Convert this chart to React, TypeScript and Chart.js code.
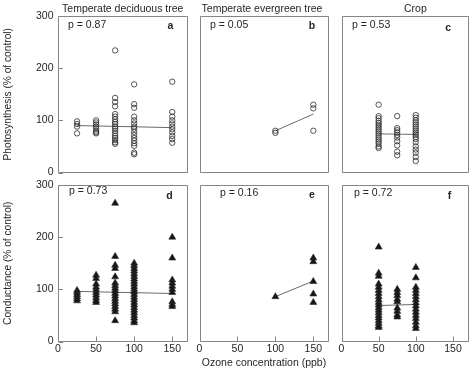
import React, { useEffect, useRef } from "react";
import { Chart, registerables } from "chart.js";

Chart.register(...registerables);

const CANVAS_W = 474;
const CANVAS_H = 370;
const FONT = "'Liberation Sans', Arial, Helvetica, sans-serif";
const TEXT = "#262626";
const FRAME = "#858585";

// ---------- text ----------
const columnTitles = ["Temperate deciduous tree", "Temperate evergreen tree", "Crop"];
const yTitles = ["Photosynthesis (% of control)", "Conductance (% of control)"];
const xTitle = "Ozone concentration (ppb)";
const pLabels = ["p = 0.87", "p = 0.05", "p = 0.53", "p = 0.73", "p = 0.16", "p = 0.72"];
const panelLetters = ["a", "b", "c", "d", "e", "f"];
const yTickValues = [0, 100, 200, 300];
const xTickValues = [0, 50, 100, 150];

// ---------- data: photosynthesis ----------
const decidPhotoX = [25, 50, 75, 100, 150];
const decidPhotoY = [
  [98, 93, 88, 75],
  [100, 96, 92, 88, 84, 80, 77, 75],
  [234, 143, 135, 127, 112, 107, 102, 97, 93, 88, 84, 80, 75, 70, 66, 62, 58, 55],
  [169, 131, 124, 107, 100, 94, 88, 84, 78, 72, 66, 61, 56, 51, 38, 35],
  [174, 116, 107, 100, 94, 88, 83, 77, 70, 64, 57],
];
const decidPhotoFitX = [25, 150];
const decidPhotoFitY = [90, 86];

const everPhotoX = [100, 150];
const everPhotoY = [
  [80, 76],
  [130, 123, 80],
];
const everPhotoFitX = [100, 150];
const everPhotoFitY = [80, 112];

const cropPhotoX = [50, 75, 100];
const cropPhotoY = [
  [130, 108, 104, 99, 95, 91, 87, 83, 79, 75, 71, 67, 63, 59, 55, 50, 47],
  [108, 85, 81, 77, 72, 67, 60, 52, 40, 33],
  [110, 105, 100, 96, 92, 88, 84, 80, 76, 72, 68, 64, 58, 50, 44, 38, 30, 22],
];
const cropPhotoFitX = [50, 100];
const cropPhotoFitY = [74, 73];

// ---------- data: conductance ----------
const decidCondX = [25, 50, 75, 100, 150];
const decidCondY = [
  [98, 94, 90, 86, 82, 78],
  [127, 121, 110, 104, 99, 94, 89, 84, 79, 75],
  [265, 163, 146, 140, 124, 112, 107, 102, 97, 92, 87, 82, 77, 72, 67, 62, 57, 40],
  [150, 145, 140, 135, 130, 125, 120, 115, 110, 105, 100, 95, 90, 85, 80, 75, 70, 65, 60, 55, 50, 45, 40, 36],
  [200, 160, 118, 112, 106, 100, 94, 76, 71, 67],
];
const decidCondFitX = [25, 150];
const decidCondFitY = [96, 92];

const everCondX = [100, 150];
const everCondY = [
  [86],
  [160, 153, 115, 91, 75],
];
const everCondFitX = [100, 150];
const everCondFitY = [86, 116];

const cropCondX = [50, 75, 100];
const cropCondY = [
  [181, 131, 125, 110, 104, 98, 92, 86, 80, 75, 70, 65, 60, 55, 50, 45, 40, 35, 30, 27],
  [100, 94, 88, 81, 76, 64, 58, 51, 47],
  [142, 122, 104, 98, 92, 86, 80, 74, 68, 62, 56, 50, 44, 37, 30, 25],
];
const cropCondFitX = [50, 100];
const cropCondFitY = [69, 71];

// ---------- panel layout (styles only) ----------
type PanelCfg = {
  idx: number;
  xs: number[];
  ys: number[][];
  fitX: number[];
  fitY: number[];
  marker: "circle" | "triangle";
  area: [number, number, number, number];
  xMax: number;
  title?: string;
  titleDx: number;
  yTitle?: string;
  xTitle?: string;
  showYLabels: boolean;
  showXLabels: boolean;
  yMarks: boolean;
  xMarks: boolean;
  pDx: number;
  pDy: number;
  letterDx: number;
  letterDy: number;
};

const TOP: [number, number] = [16, 172.5];
const BOT: [number, number] = [185, 341.5];
const COLS: [number, number][] = [
  [58, 187.5],
  [199.5, 328.5],
  [341.5, 473],
];

const panels: PanelCfg[] = [
  {
    idx: 0, xs: decidPhotoX, ys: decidPhotoY, fitX: decidPhotoFitX, fitY: decidPhotoFitY, marker: "circle",
    area: [COLS[0][0], TOP[0], COLS[0][1], TOP[1]], xMax: 170,
    title: columnTitles[0], titleDx: 0, yTitle: yTitles[0], showYLabels: true, showXLabels: false,
    yMarks: true, xMarks: false, pDx: 10, pDy: 11.5, letterDx: 17, letterDy: 13,
  },
  {
    idx: 1, xs: everPhotoX, ys: everPhotoY, fitX: everPhotoFitX, fitY: everPhotoFitY, marker: "circle",
    area: [COLS[1][0], TOP[0], COLS[1][1], TOP[1]], xMax: 170,
    title: columnTitles[1], titleDx: -2, showYLabels: false, showXLabels: false,
    yMarks: false, xMarks: false, pDx: 10.5, pDy: 11.5, letterDx: 16.5, letterDy: 13,
  },
  {
    idx: 2, xs: cropPhotoX, ys: cropPhotoY, fitX: cropPhotoFitX, fitY: cropPhotoFitY, marker: "circle",
    area: [COLS[2][0], TOP[0], COLS[2][1], TOP[1]], xMax: 172,
    title: columnTitles[2], titleDx: 10, showYLabels: false, showXLabels: false,
    yMarks: false, xMarks: false, pDx: 10.5, pDy: 12, letterDx: 21, letterDy: 14.5,
  },
  {
    idx: 3, xs: decidCondX, ys: decidCondY, fitX: decidCondFitX, fitY: decidCondFitY, marker: "triangle",
    area: [COLS[0][0], BOT[0], COLS[0][1], BOT[1]], xMax: 170,
    titleDx: 0, yTitle: yTitles[1], showYLabels: true, showXLabels: true,
    yMarks: true, xMarks: true, pDx: 11, pDy: 8.5, letterDx: 18, letterDy: 14,
  },
  {
    idx: 4, xs: everCondX, ys: everCondY, fitX: everCondFitX, fitY: everCondFitY, marker: "triangle",
    area: [COLS[1][0], BOT[0], COLS[1][1], BOT[1]], xMax: 170,
    titleDx: 0, xTitle: xTitle, showYLabels: false, showXLabels: true,
    yMarks: false, xMarks: true, pDx: 20.5, pDy: 11.3, letterDx: 16.5, letterDy: 13,
  },
  {
    idx: 5, xs: cropCondX, ys: cropCondY, fitX: cropCondFitX, fitY: cropCondFitY, marker: "triangle",
    area: [COLS[2][0], BOT[0], COLS[2][1], BOT[1]], xMax: 172,
    titleDx: 0, showYLabels: false, showXLabels: true,
    yMarks: false, xMarks: true, pDx: 12.5, pDy: 10.8, letterDx: 20, letterDy: 14,
  },
];

function toPoints(xs: number[], groups: number[][]) {
  return xs.flatMap((x, i) => groups[i].map((y) => ({ x, y })));
}

function makeDecor(p: PanelCfg) {
  return {
    id: "decor" + p.idx,
    beforeDatasetsDraw(chart: any) {
      const { ctx, chartArea: a, scales } = chart;
      const L = Math.round(a.left) + 0.5;
      const T = Math.round(a.top) + 0.5;
      const R = Math.round(a.right) - 0.5;
      const B = Math.round(a.bottom) - 0.5;
      ctx.save();
      ctx.strokeStyle = FRAME;
      ctx.lineWidth = 1;
      ctx.beginPath();
      ctx.moveTo(L, T);
      ctx.lineTo(R, T);
      ctx.lineTo(R, B);
      ctx.lineTo(L, B);
      ctx.closePath();
      if (p.yMarks) {
        for (const v of yTickValues) {
          const py = Math.round(scales.y.getPixelForValue(v)) + 0.5;
          ctx.moveTo(L, py);
          ctx.lineTo(L + 4.5, py);
        }
      }
      if (p.xMarks) {
        for (const v of xTickValues) {
          const px = Math.round(scales.x.getPixelForValue(v)) + 0.5;
          ctx.moveTo(px, B);
          ctx.lineTo(px, B - 5);
        }
      }
      ctx.stroke();
      ctx.restore();
    },
    afterDraw(chart: any) {
      const { ctx, chartArea: a } = chart;
      ctx.save();
      ctx.fillStyle = TEXT;
      ctx.textBaseline = "alphabetic";
      if (p.title) {
        ctx.font = `10.5px ${FONT}`;
        ctx.textAlign = "center";
        ctx.fillText(p.title, (a.left + a.right) / 2 + p.titleDx, 11.5);
      }
      ctx.font = `10.5px ${FONT}`;
      ctx.textAlign = "left";
      ctx.fillText(pLabels[p.idx], a.left + p.pDx, a.top + p.pDy);
      ctx.font = `bold 10.5px ${FONT}`;
      ctx.textAlign = "center";
      ctx.fillText(panelLetters[p.idx], a.right - p.letterDx, a.top + p.letterDy);
      ctx.restore();
    },
  };
}

function buildConfig(p: PanelCfg): any {
  const [L, T, R, B] = p.area;
  const yW = p.showYLabels ? L : 0;
  const xH = p.showXLabels ? CANVAS_H - B : 0;
  const circle = p.marker === "circle";
  return {
    type: "scatter",
    data: {
      datasets: [
        {
          data: toPoints(p.xs, p.ys),
          pointStyle: p.marker,
          pointRadius: circle ? 2.7 : 4,
          borderWidth: circle ? 0.8 : 0.6,
          borderColor: "#2a2a2a",
          backgroundColor: circle ? "rgba(0,0,0,0)" : "#141414",
          showLine: false,
          order: 1,
        },
        {
          data: p.fitX.map((x, i) => ({ x, y: p.fitY[i] })),
          showLine: true,
          borderColor: "#6a6a6a",
          borderWidth: 1,
          pointRadius: 0,
          fill: false,
          order: 2,
        },
      ],
    },
    options: {
      responsive: false,
      animation: false,
      devicePixelRatio: 1,
      events: [],
      layout: {
        padding: {
          left: L - yW,
          top: T,
          right: CANVAS_W - R,
          bottom: CANVAS_H - B - xH,
        },
      },
      plugins: {
        legend: { display: false },
        tooltip: { enabled: false },
        title: { display: false },
      },
      scales: {
        x: {
          type: "linear",
          position: "bottom",
          min: 0,
          max: p.xMax,
          afterBuildTicks: (s: any) => {
            s.ticks = xTickValues.map((v) => ({ value: v }));
          },
          afterFit: (s: any) => {
            s.height = xH;
          },
          grid: { display: false, drawTicks: false },
          border: { display: false },
          ticks: {
            display: p.showXLabels,
            padding: 1,
            color: TEXT,
            font: { family: FONT, size: 10.5 },
            maxRotation: 0,
          },
          title: {
            display: !!p.xTitle,
            text: p.xTitle || "",
            color: TEXT,
            font: { family: FONT, size: 10.5 },
            padding: { top: 0, bottom: 1 },
          },
        },
        y: {
          type: "linear",
          position: "left",
          min: 0,
          max: 300,
          afterBuildTicks: (s: any) => {
            s.ticks = yTickValues.map((v) => ({ value: v }));
          },
          afterFit: (s: any) => {
            s.width = yW;
          },
          grid: { display: false, drawTicks: false },
          border: { display: false },
          ticks: {
            display: p.showYLabels,
            padding: 4.5,
            color: TEXT,
            font: { family: FONT, size: 10.5 },
          },
          title: {
            display: !!p.yTitle,
            text: p.yTitle || "",
            color: TEXT,
            font: { family: FONT, size: 10.2 },
            padding: { top: 1.7, bottom: 0 },
          },
        },
      },
    },
    plugins: [makeDecor(p)],
  };
}

function Panel({ cfg }: { cfg: PanelCfg }) {
  const ref = useRef<HTMLCanvasElement>(null);
  useEffect(() => {
    const canvas = ref.current;
    if (!canvas) return;
    const chart = new Chart(canvas, buildConfig(cfg));
    return () => chart.destroy();
  }, [cfg]);
  return (
    <canvas
      ref={ref}
      width={CANVAS_W}
      height={CANVAS_H}
      style={{ position: "absolute", left: 0, top: 0, width: CANVAS_W + "px", height: CANVAS_H + "px" }}
    />
  );
}

export default function App() {
  return (
    <div
      style={{
        position: "absolute",
        left: 0,
        top: 0,
        width: CANVAS_W,
        height: CANVAS_H,
        background: "#ffffff",
        overflow: "hidden",
      }}
    >
      {panels.map((p) => (
        <Panel key={p.idx} cfg={p} />
      ))}
    </div>
  );
}
